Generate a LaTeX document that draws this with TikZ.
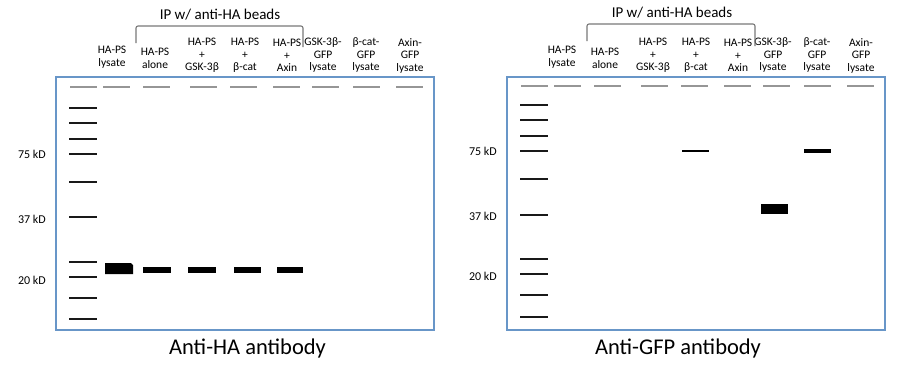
\documentclass[tikz,border=0pt]{standalone}
\usepackage{fontspec}
\setmainfont{Carlito}
\definecolor{boxblue}{RGB}{104,150,200}
\definecolor{wellgray}{RGB}{150,150,150}
\definecolor{laddercol}{RGB}{25,25,25}
\definecolor{brackgray}{RGB}{120,120,120}
\begin{document}
\begin{tikzpicture}[x=1pt,y=-1pt,
  gelbox/.style={draw=boxblue,line width=1.4pt},
  well/.style={draw=wellgray,line width=1.6pt},
  ladder/.style={draw=laddercol,line width=2.2pt},
  band/.style={fill=black},
  lanelabel/.style={font=\fontsize{11.5}{12.5}\selectfont,align=center,inner sep=0pt},
  kdlabel/.style={font=\fontsize{12}{14}\selectfont,anchor=east,inner sep=0pt},
  iplabel/.style={font=\fontsize{15}{17}\selectfont,inner sep=0pt},
  title/.style={font=\fontsize{22.5}{26}\selectfont,anchor=base,inner sep=0pt},
  brack/.style={draw=brackgray,line width=1.1pt,rounded corners=2pt}]
\useasboundingbox[fill=white] (0,0) rectangle (906,380);

% ---------------- left panel ----------------
\draw[gelbox] (56,77) rectangle (434,330);
\foreach \x in {70,103,143,190,230,273,312,353,396}
  \draw[well] (\x,87) -- ++(27,0);
\foreach \y in {108,123,139,154,182,217,262,277,298,319}
  \draw[ladder] (69,\y) -- (97,\y);
\fill[band] (105,263) -- (131,263) -- (133,265) -- (133,274) -- (105,274) -- cycle;
\fill[band] (143,267) rectangle (171,273);
\fill[band] (188,267) rectangle (216,273);
\fill[band] (234,267) rectangle (261,273);
\fill[band] (277,267) rectangle (303,273);
\node[kdlabel] (lk75) at (46,154) {75 kD};
\node[kdlabel] (lk37) at (46,219) {37 kD};
\node[kdlabel] (lk20) at (46,280) {20 kD};
\node[lanelabel] (l1) at (112,57) {HA-PS\\lysate};
\node[lanelabel] (l2) at (155,58.5) {HA-PS\\alone};
\node[lanelabel] (l3) at (202,55.5) {HA-PS\\+\\GSK-3β};
\node[lanelabel] (l4) at (245,55.5) {HA-PS\\+\\β-cat};
\node[lanelabel] (l5) at (287,55.5) {HA-PS\\+\\Axin};
\node[lanelabel] (l6) at (323,55.5) {GSK-3β-\\GFP\\lysate};
\node[lanelabel] (l7) at (366,55.5) {β-cat-\\GFP\\lysate};
\node[lanelabel] (l8) at (410,55.5) {Axin-\\GFP\\lysate};
\draw[brack] (136,43) -- (136,26) -- (303,26) -- (303,47);
\node[iplabel] (lip) at (220,15) {IP w/ anti-HA beads};
\node[title] (lt) at (247.5,354) {Anti-HA antibody};

% ---------------- right panel ----------------
\draw[gelbox] (507,77) rectangle (885,330);
\foreach \x in {521,554,594,641,681,724,763,804,847}
  \draw[well] (\x,86) -- ++(27,0);
\foreach \y in {105,120,136,151,179,215,259,274,295,317}
  \draw[ladder] (520,\y) -- (548,\y);
\fill[band] (682,149.8) rectangle (709,152.4);
\fill[band] (804,148.8) rectangle (831,152.8);
\fill[band] (761,204) rectangle (788,214);
\node[kdlabel] (rk75) at (497,151) {75 kD};
\node[kdlabel] (rk37) at (497,216) {37 kD};
\node[kdlabel] (rk20) at (497,276) {20 kD};
\node[lanelabel] (r1) at (562,57) {HA-PS\\lysate};
\node[lanelabel] (r2) at (605,58.5) {HA-PS\\alone};
\node[lanelabel] (r3) at (653,55.5) {HA-PS\\+\\GSK-3β};
\node[lanelabel] (r4) at (696,55.5) {HA-PS\\+\\β-cat};
\node[lanelabel] (r5) at (738,55.5) {HA-PS\\+\\Axin};
\node[lanelabel] (r6) at (773,55.5) {GSK-3β-\\GFP\\lysate};
\node[lanelabel] (r7) at (817,55.5) {β-cat-\\GFP\\lysate};
\node[lanelabel] (r8) at (861,55.5) {Axin-\\GFP\\lysate};
\draw[brack] (587,41) -- (587,24) -- (755,24) -- (755,46);
\node[iplabel] (rip) at (672,13) {IP w/ anti-HA beads};
\node[title] (rt) at (678,354) {Anti-GFP antibody};
\end{tikzpicture}
\end{document}
